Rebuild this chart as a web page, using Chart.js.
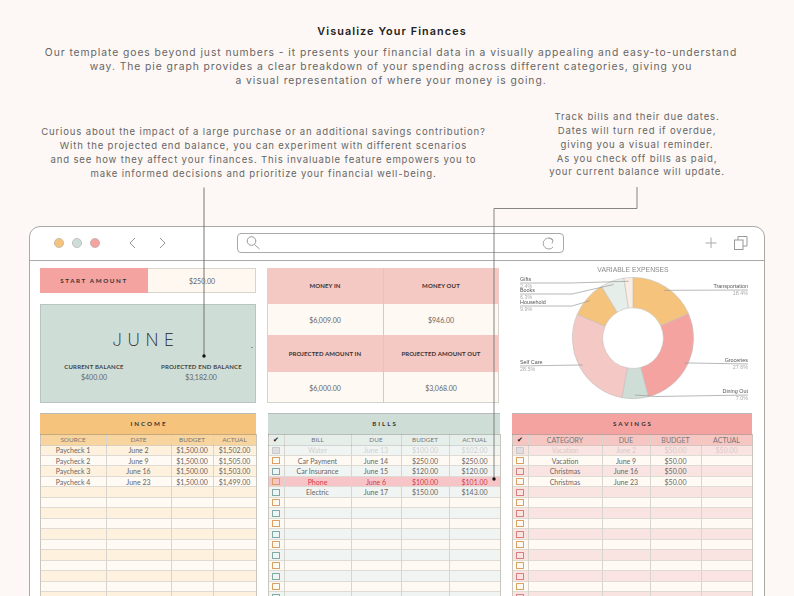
<![CDATA[<!DOCTYPE html>
<html><head><meta charset="utf-8">
<script src="https://cdn.jsdelivr.net/npm/chart.js@4"></script>
<style>
html,body{margin:0;padding:0;background:#FDF8F5;width:794px;height:596px;overflow:hidden}
#root{position:relative;width:794px;height:596px;overflow:hidden}
.a{position:absolute;box-sizing:border-box}
.t{position:absolute;white-space:nowrap;transform:translate(-50%,-50%);line-height:1}
.body{font-family:Inter,"Noto Sans",sans-serif;font-size:10.35px;letter-spacing:.93px;color:#666}
.note{font-size:9.55px;letter-spacing:.84px}
.c{font-family:Lato,sans-serif;font-size:7px;color:#666}
.h{font-family:Lato,sans-serif;font-weight:700;color:#3a3a3a}
</style></head><body><div id="root"></div>
<script>
// ---- data ----
const expenseLabels=["Transportation","Groceries","Dining Out","Self Care","Household","Books","Gifts"];
const expenseValues=[18.4,27.6,7.0,28.5,9.9,6.3,2.4];
const expenseColors=["#F5C37B","#F5A3A1","#CEDDD6","#F4C8C4","#F5C37B","#E6EEEA","#FAEDE3"];
const heading="Visualize Your Finances";
const introLines=["Our template goes beyond just numbers - it presents your financial data in a visually appealing and easy-to-understand","way. The pie graph provides a clear breakdown of your spending across different categories, giving you","a visual representation of where your money is going."];
const leftNote=["Curious about the impact of a large purchase or an additional savings contribution?","With the projected end balance, you can experiment with different scenarios","and see how they affect your finances. This invaluable feature empowers you to","make informed decisions and prioritize your financial well-being."];
const rightNote=["Track bills and their due dates.","Dates will turn red if overdue,","giving you a visual reminder.","As you check off bills as paid,","your current balance will update."];
const incomeHead=["SOURCE","DATE","BUDGET","ACTUAL"];
const incomeRows=[["Paycheck 1","June 2","$1,500.00","$1,502.00"],["Paycheck 2","June 9","$1,500.00","$1,505.00"],["Paycheck 3","June 16","$1,500.00","$1,503.00"],["Paycheck 4","June 23","$1,500.00","$1,499.00"]];
const billsHead=["BILL","DUE","BUDGET","ACTUAL"];
const billsRows=[["Water","June 13","$100.00","$102.00"],["Car Payment","June 14","$250.00","$250.00"],["Car Insurance","June 15","$120.00","$120.00"],["Phone","June 6","$100.00","$101.00"],["Electric","June 17","$150.00","$143.00"]];
const savingsHead=["CATEGORY","DUE","BUDGET","ACTUAL"];
const savingsRows=[["Vacation","June 2","$50.00","$50.00"],["Vacation","June 9","$50.00",""],["Christmas","June 16","$50.00",""],["Christmas","June 23","$50.00",""]];
const moneyCells=[["MONEY IN","$6,009.00"],["MONEY OUT","$946.00"],["PROJECTED AMOUNT IN","$6,000.00"],["PROJECTED AMOUNT OUT","$3,068.00"]];

// ---- helpers ----
const root=document.getElementById('root');
function box(x,y,w,h,css){const d=document.createElement('div');d.className='a';d.style.cssText+=`left:${x}px;top:${y}px;width:${w}px;height:${h}px;`+(css||'');root.appendChild(d);return d;}
function text(s,x,y,cls,css){const d=document.createElement('div');d.className='t '+(cls||'');d.textContent=s;d.style.cssText+=`left:${x}px;top:${y}px;`+(css||'');root.appendChild(d);return d;}

// ---- top text ----
text(heading,392,32,'','font-family:Inter,sans-serif;font-weight:600;font-size:10.8px;letter-spacing:1.1px;color:#222');
introLines.forEach((l,i)=>text(l,391,52+i*14,'body'));
leftNote.forEach((l,i)=>text(l,263.500,132+i*13.9,'body note'));
rightNote.forEach((l,i)=>text(l,637,117+i*13.85,'body note'));

// ---- window ----
box(29,226,736,400,'background:#fff;border:1px solid #a9a9a5;border-radius:11px;');
box(29,260,736,1,'background:#a9a9a5;');
box(237,233,327,20,'background:#fff;border:1px solid #a9a9a5;border-radius:4px;');
const svg=`<svg xmlns="http://www.w3.org/2000/svg" width="794" height="596" style="position:absolute;left:0;top:0">
<circle cx="59" cy="243" r="4.6" fill="#F5C37B" stroke="#aaa" stroke-width=".6"/><circle cx="77" cy="243" r="4.6" fill="#CEDDD6" stroke="#aaa" stroke-width=".6"/><circle cx="95" cy="243" r="4.6" fill="#F5A3A1" stroke="#aaa" stroke-width=".6"/>
<path d="M135 238l-5 5 5 5M160 238l5 5-5 5" fill="none" stroke="#999" stroke-width="1"/>
<circle cx="251.500" cy="241" r="4.300" fill="none" stroke="#999"/><path d="M254.500 244.500l5 4.500" stroke="#999"/>
<path d="M553 240a5.500 5.500 0 1 0 0 7M549 238l4 2-1 3.500" fill="none" stroke="#999" stroke-width=".9"/>
<path d="M711 237.500v10.500M705.500 243h11" stroke="#aaa" stroke-width="1"/>
<rect x="734.500" y="240" width="8.500" height="9.500" fill="none" stroke="#999"/><path d="M738 240v-3.500h9v9.500h-4" fill="none" stroke="#999"/>
</svg>`;
root.insertAdjacentHTML('beforeend',svg);

// ---- start amount + month ----
box(40,268,216,25,'background:#FEF8F1;border:1px solid #d8d5cf;');
box(40,268,108,25,'background:#F5A3A1;');
text("START AMOUNT",94,281,'h','font-size:6.2px;letter-spacing:1.65px;color:#333');
text("$250.00",202,281,'c');
box(40,304,216,99,'background:#CFDDD7;border:1px solid #b9c5c0;');
box(250.500,346.500,2,.8,'background:#8b9792;');
text("JUNE",146,340,'','font-family:Inter,Lato,sans-serif;font-weight:200;font-size:17px;letter-spacing:5.6px;color:#222');
text("CURRENT BALANCE",94,366.500,'h','font-size:6px;letter-spacing:.2px;color:#444');
text("PROJECTED END BALANCE",201.500,366.500,'h','font-size:6px;letter-spacing:.2px;color:#444');
text("$400.00",94,377,'c');
text("$3,182.00",201,377,'c');

// ---- money grid ----
const mY=[268,304,335,372,403],mX=[267,383,499];
box(267,268,232,135,'background:#FEF9F2;border:1px solid #d6d3cd;');
[0,2].forEach(r=>box(267,mY[r],232,mY[r+1]-mY[r],'background:#F4C8C3;'));
box(383,268,1,135,'background:#d9c8c2;');
moneyCells.forEach((c,i)=>{const col=i%2,row=i<2?0:2;const cx=(mX[col]+mX[col+1])/2;
 text(c[0],cx,(mY[row]+mY[row+1])/2+.3,'h','font-size:6px;letter-spacing:.13px;color:#3a3030');
 text(c[1],cx,(mY[row+1]+mY[row+2])/2,'c');});

// ---- tables ----
function table(o){
 const [x0,x1]=[o.cols[0],o.cols[o.cols.length-1]],w=x1-x0;
 box(x0,413,w,21,`background:${o.title};`);
 text(o.name,(x0+x1)/2+1,424,'h','font-size:6.2px;letter-spacing:2px;color:#333');
 box(x0,434,w,11,`background:${o.head};`);
 const n=15;
 for(let i=0;i<n;i++){
  const y=445+i*10.5,bg=(o.rowBg&&o.rowBg(i))||o.stripes[i%2];
  box(x0,y,w,10.5,`background:${bg};border-bottom:.6px solid #dedbd5;`);
 }
 o.cols.forEach((cx,i)=>{box(cx-.5,434,.8,170,`background:${i==0||i==o.cols.length-1?'#c9c5bd':'#d8d5cf'};`)});
 box(x0,413,w,.8,'background:#bbb');box(x0,434,w,.7,'background:#00000033');box(x0,445,w,.7,'background:#00000022');
 const cs=o.check?o.cols.slice(1):o.cols;
 o.headers.forEach((h,j)=>text(h,(cs[j]+cs[j+1])/2,440,'c',`font-size:${o.headSize||6.4}px;color:#777`));
 if(o.check){
  text("✔",(o.cols[0]+o.cols[1])/2,440,'','font-size:7px;color:#111;font-family:"DejaVu Sans"');
  for(let i=0;i<n;i++){
   const y=445+i*10.5,c=i==0?'#c9c9c9':o.check[i%2];
   box((o.cols[0]+o.cols[1])/2-3.7,y+1.5,7.4,7.4,`border:.9px solid ${c};background:${i==0?'#dedede':'transparent'};border-radius:.6px;`);
  }
 }
 o.rows.forEach((r,i)=>r.forEach((v,j)=>{ if(!v)return;
  text(v,(cs[j]+cs[j+1])/2,450.2+i*10.5,'c',(o.rowCss&&o.rowCss(i))||'');}));
}
table({name:"INCOME",cols:[40,106,171,213,256],title:"#F5C37B",head:"#F8D49F",stripes:["#FEF1DD","#FFFAF4"],headers:incomeHead,rows:incomeRows});
table({name:"BILLS",cols:[268,284,351,401,449,500],title:"#CEDDD6",head:"#E6EEEA",stripes:["#F0F5F3","#FFF9F3"],headers:billsHead,rows:billsRows,
 check:["#7FA9A4","#D9A066"],rowBg:i=>i==3?"#F7C5C8":null,rowCss:i=>i==0?"color:#d0d0d0;":i==3?"color:#D23A4C;":""});
table({name:"SAVINGS",cols:[512,528,602,650,701,752],title:"#F5A3A1",head:"#F6C6C2",stripes:["#FAE4E2","#FFFAF4"],headers:savingsHead,rows:savingsRows,headSize:7,
 check:["#D47F7F","#D9A066"],rowCss:i=>i==0?"color:#d9c8c6;":""});

// ---- doughnut ----
const cv=document.createElement('canvas');cv.width=260;cv.height=146;
cv.style.cssText='position:absolute;left:503px;top:265px;width:260px;height:146px;';
root.appendChild(cv);
// y of each label's leader, canvas pixels, and the side it is written on
const labelY=[25,99,130,101,41,29,18];
const labelRight=[1,1,1,0,0,0,0];
const labelEdge=[245,245,245,17,17,17,17];
const kink=[null,null,[154,131.500],null,[69,41],[69,29],[68,18]];
const leaderPlugin={id:'leaders',afterDraw(chart){
 const ctx=chart.ctx,arcs=chart.getDatasetMeta(0).data;
 ctx.save();ctx.textBaseline='middle';
 arcs.forEach((a,i)=>{
  const mid=(a.startAngle+a.endAngle)/2,r=a.outerRadius*.94;
  const ax=a.x+Math.cos(mid)*r,ay=a.y+Math.sin(mid)*r,y=labelY[i],e=labelEdge[i];
  ctx.strokeStyle='#9a9a9a';ctx.lineWidth=.7;ctx.beginPath();ctx.moveTo(ax,ay);
  if(kink[i])ctx.lineTo(kink[i][0],kink[i][1]);
  ctx.lineTo(e,y);ctx.stroke();
  ctx.textAlign=labelRight[i]?'right':'left';
  ctx.font='5.4px "Liberation Sans",Arial,sans-serif';
  ctx.fillStyle='#555';ctx.fillText(expenseLabels[i],e,y-3);
  ctx.fillStyle='#aaa';ctx.fillText(expenseValues[i].toFixed(1)+'%',e,y+4);
 });
 ctx.restore();
}};
new Chart(cv,{type:'doughnut',
 data:{labels:expenseLabels,datasets:[{data:expenseValues,backgroundColor:expenseColors,borderColor:'#c4c0ba',borderWidth:.6}]},
 plugins:[leaderPlugin],
 options:{responsive:false,animation:false,cutout:'50%',rotation:0,
  layout:{padding:{top:0,bottom:12}},
  plugins:{legend:{display:false},tooltip:{enabled:false},
   title:{display:true,text:'VARIABLE EXPENSES',color:'#8a8a8a',padding:{top:1,bottom:3},font:{size:6.8,weight:'normal',family:'"Liberation Sans",Arial,sans-serif'}}}}});

// ---- callout lines ----
root.insertAdjacentHTML('beforeend',`<svg xmlns="http://www.w3.org/2000/svg" width="794" height="596" style="position:absolute;left:0;top:0">
<path d="M204 187.500V356" fill="none" stroke="#666" stroke-width=".9"/><circle cx="204" cy="356" r="1.700" fill="#111"/>
<path d="M637 187V208.500H494V479" fill="none" stroke="#777" stroke-width=".9"/><circle cx="494" cy="479" r="1.700" fill="#111"/>
</svg>`);
</script></body></html>]]>
